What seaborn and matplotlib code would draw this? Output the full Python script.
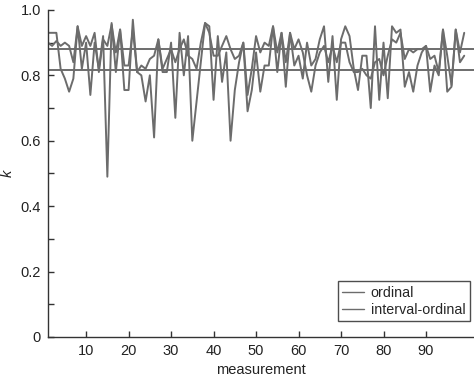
import numpy as np
import pandas as pd
import matplotlib
matplotlib.use("Agg")
import matplotlib.pyplot as plt
from matplotlib.ticker import MultipleLocator, FuncFormatter
import seaborn as sns

measurement = list(range(1, 100))

ordinal = [
    0.90, 0.89, 0.905, 0.89, 0.90, 0.89, 0.84, 0.95, 0.89, 0.92,
    0.89, 0.93, 0.81, 0.91, 0.89, 0.955, 0.87, 0.94, 0.83, 0.83,
    0.94, 0.81, 0.83, 0.82, 0.85, 0.86, 0.91, 0.82, 0.85, 0.88,
    0.84, 0.88, 0.91, 0.86, 0.85, 0.82, 0.90, 0.96, 0.93, 0.86,
    0.86, 0.89, 0.92, 0.88, 0.85, 0.86, 0.90, 0.74, 0.82, 0.92,
    0.87, 0.90, 0.89, 0.95, 0.87, 0.93, 0.84, 0.93, 0.88, 0.91,
    0.87, 0.80, 0.75, 0.83, 0.87, 0.89, 0.84, 0.89, 0.84, 0.90,
    0.90, 0.84, 0.81, 0.81, 0.82, 0.80, 0.79, 0.84, 0.85, 0.80,
    0.86, 0.91, 0.90, 0.93, 0.85, 0.88, 0.87, 0.88, 0.88, 0.89,
    0.85, 0.86, 0.81, 0.94, 0.86, 0.77, 0.94, 0.84, 0.86,
]

interval_ordinal = [
    0.93, 0.93, 0.93, 0.82, 0.79, 0.75, 0.79, 0.95, 0.82, 0.90,
    0.74, 0.90, 0.82, 0.92, 0.49, 0.96, 0.81, 0.94, 0.755, 0.755,
    0.97, 0.81, 0.80, 0.72, 0.80, 0.61, 0.91, 0.81, 0.81, 0.90,
    0.67, 0.93, 0.80, 0.92, 0.60, 0.72, 0.84, 0.96, 0.95, 0.725,
    0.92, 0.78, 0.87, 0.60, 0.755, 0.84, 0.90, 0.69, 0.755, 0.87,
    0.75, 0.83, 0.83, 0.95, 0.81, 0.93, 0.765, 0.93, 0.83, 0.86,
    0.79, 0.90, 0.83, 0.85, 0.91, 0.95, 0.78, 0.92, 0.725, 0.91,
    0.95, 0.92, 0.82, 0.755, 0.86, 0.86, 0.70, 0.95, 0.725, 0.90,
    0.73, 0.95, 0.93, 0.94, 0.765, 0.81, 0.75, 0.83, 0.87, 0.89,
    0.75, 0.83, 0.80, 0.94, 0.75, 0.765, 0.94, 0.87, 0.93,
]

# уровни горизонтальных линий
mean_levels = [0.881, 0.817]

sns.set_style("ticks")
plt.rcParams['font.family'] = ['Liberation Sans', 'DejaVu Sans']

df = pd.DataFrame({'measurement': measurement,
                   'ordinal': ordinal,
                   'interval-ordinal': interval_ordinal})

fig = plt.figure(figsize=(4.74, 3.82), dpi=100)
ax = fig.add_axes([0.101, 0.118, 0.899, 0.856])

line_color = '#6c6c6c'
sns.lineplot(data=df, x='measurement', y='ordinal', ax=ax, color=line_color,
             linewidth=1.4, label='ordinal')
sns.lineplot(data=df, x='measurement', y='interval-ordinal', ax=ax, color=line_color,
             linewidth=1.4, label='interval-ordinal')
for lvl in mean_levels:
    ax.axhline(lvl, color=line_color, linewidth=1.4)

ax.set_xlim(1, 101.3)
ax.set_ylim(0, 1.0)
ax.set_xticks(range(10, 100, 10))
ax.yaxis.set_major_locator(MultipleLocator(0.2))
ax.yaxis.set_minor_locator(MultipleLocator(0.1))
ax.yaxis.set_major_formatter(FuncFormatter(lambda v, p: '0' if abs(v) < 1e-9 else f'{v:.1f}'))

for s in ['top', 'right']:
    ax.spines[s].set_visible(False)
for s in ['left', 'bottom']:
    ax.spines[s].set_color('#333333')
    ax.spines[s].set_linewidth(1.0)

ax.tick_params(axis='both', which='major', direction='in', length=4, width=1,
               color='#333333', labelsize=10.5, labelcolor='#222222', pad=5)
ax.tick_params(axis='y', which='minor', direction='in', length=4, width=1, color='#333333')

ax.set_xlabel('measurement', fontsize=10.5, color='#222222', labelpad=4)
ax.set_ylabel('k', fontsize=10.5, style='italic', color='#222222', labelpad=4)

leg = ax.legend(loc='lower right', bbox_to_anchor=(0.99, 0.049), borderaxespad=0,
                frameon=True, fancybox=False, fontsize=10.3, handlelength=1.5,
                borderpad=0.3, labelspacing=0.2, handletextpad=0.5)
leg.get_frame().set_edgecolor('#222222')
leg.get_frame().set_linewidth(1.0)
for h in leg.get_lines():
    h.set_linewidth(1.0)

fig.savefig('out.png', dpi=100)
